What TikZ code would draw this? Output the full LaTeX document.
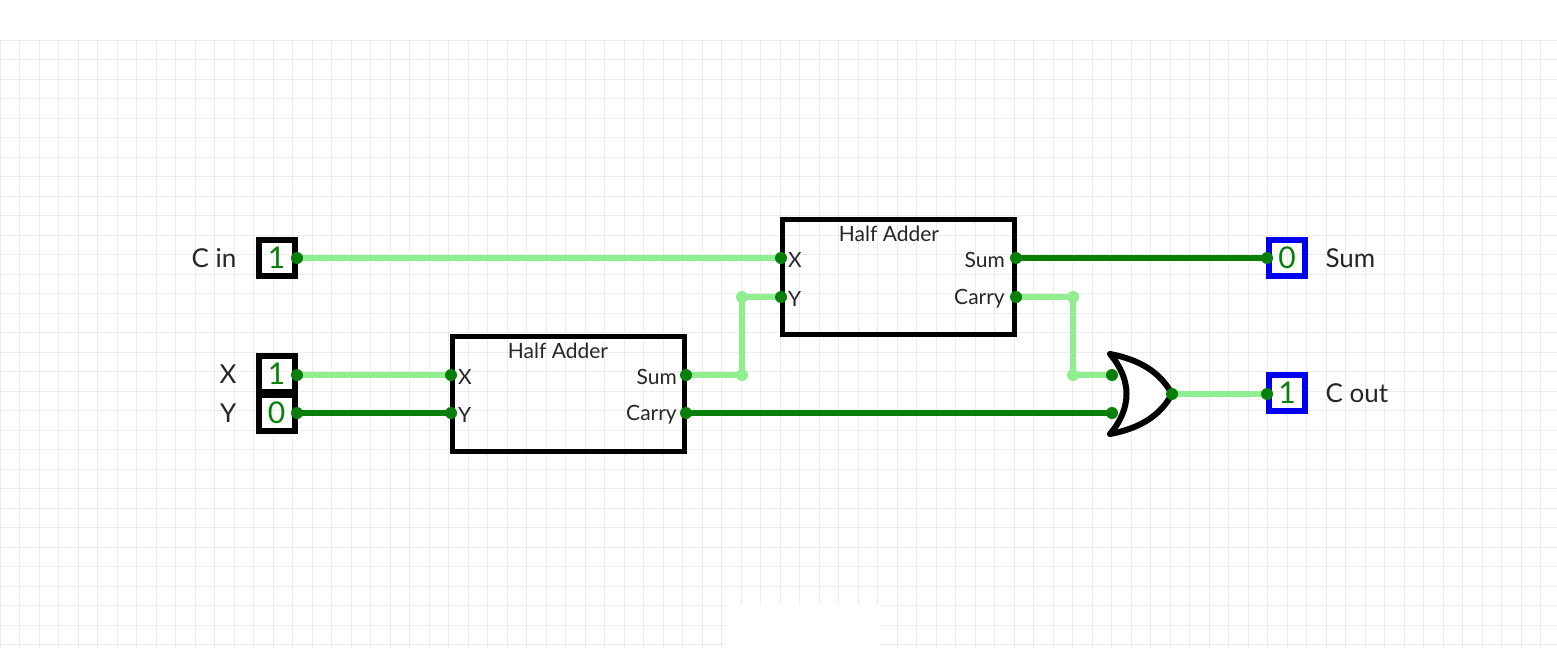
\documentclass[tikz,border=0pt]{standalone}
\usepackage{fontspec}
\setmainfont{Lato}
\begin{document}
\definecolor{lg}{HTML}{90EE90}
\definecolor{dg}{HTML}{087F08}
\definecolor{gridc}{HTML}{ECECEC}
\definecolor{bl}{HTML}{0000EE}
\begin{tikzpicture}[x=1pt,y=-1pt,
  lw/.style={lg,line width=6pt},
  dw/.style={dg,line width=6pt},
  io/.style={draw=black,line width=6pt,minimum width=36pt,minimum height=36pt,inner sep=0pt,text=dg,font=\fontsize{30}{30}\selectfont},
  outio/.style={io,draw=bl},
  ha/.style={draw=black,line width=5.5pt,minimum width=232pt,minimum height=115pt,inner sep=0pt},
  lab/.style={font=\fontsize{26}{26}\selectfont,text=black!85},
  port/.style={font=\fontsize{21}{21}\selectfont,text=black!85,inner sep=1pt},
  dot/.style={circle,fill=dg,inner sep=0pt,minimum size=12pt}]
\useasboundingbox (0,0) rectangle (1557,648);
\fill[white] (0,0) rectangle (1557,648);
\foreach \x in {0,19.5,...,1557} \draw[gridc,line width=0.8pt] (\x,40)--(\x,648);
\foreach \y in {40,59.5,...,648} \draw[gridc,line width=0.8pt] (0,\y)--(1557,\y);
\fill[white] (725,605) rectangle (880,648);
% nodes
\node[io] (cin) at (276.5,258) {1};
\node[io] (xin) at (276.5,374) {1};
\node[io] (yin) at (276.5,413) {0};
\node[lab,anchor=east] at (240,258) {C in};
\node[lab,anchor=east] at (240,374) {X};
\node[lab,anchor=east] at (240,413) {Y};
\node[ha] (ha1) at (568.5,394) {};
\node[ha] (ha2) at (898.5,277) {};
\node[port,anchor=north] at (558,342) {Half Adder};
\node[port,anchor=north] at (889,225) {Half Adder};
\node[port,anchor=west] at (457,377) {X};
\node[port,anchor=west] at (457,415) {Y};
\node[port,anchor=east] at (678,377) {Sum};
\node[port,anchor=east] at (678,415) {Carry};
\node[port,anchor=west] at (787,260) {X};
\node[port,anchor=west] at (787,299) {Y};
\node[port,anchor=east] at (1006,260) {Sum};
\node[port,anchor=east] at (1006,299) {Carry};
\node[outio] (sum) at (1287,258) {0};
\node[outio] (cout) at (1287,393) {1};
\node[lab,anchor=west] at (1322,258) {Sum};
\node[lab,anchor=west] at (1322,393) {C out};
% coordinates
\coordinate (cinO) at (297,258);
\coordinate (xO) at (297,375);
\coordinate (yO) at (297,413);
\coordinate (h1x) at (451,375);
\coordinate (h1y) at (451,413);
\coordinate (h1s) at (686,375);
\coordinate (h1c) at (686,413);
\coordinate (h2x) at (781,258);
\coordinate (h2y) at (781,297);
\coordinate (h2s) at (1016,258);
\coordinate (h2c) at (1016,297);
\coordinate (sumI) at (1267,258);
\coordinate (coutI) at (1267,394);
\coordinate (orA) at (1112,375);
\coordinate (orB) at (1112,413);
\coordinate (orO) at (1172,394);
\coordinate (j1) at (742,375);
\coordinate (j2) at (742,297);
\coordinate (j3) at (1073,297);
\coordinate (j4) at (1073,375);
% wires
\draw[lw] (cinO)--(h2x);
\draw[lw] (xO)--(h1x);
\draw[dw] (yO)--(h1y);
\draw[lw] (h1s)--(j1)--(j2)--(h2y);
\draw[dw] (h2s)--(sumI);
\draw[lw] (h2c)--(j3)--(j4)--(orA);
\draw[dw] (h1c)--(orB);
\draw[lw] (orO)--(coutI);
\foreach \p in {j1,j2,j3,j4} \fill[lg] (\p) circle (6);
% OR gate
\draw[black,line width=6pt,fill=white,line join=round]
 (1110,354) .. controls (1152,362) and (1165,382) .. (1172,394)
 .. controls (1165,406) and (1152,426) .. (1110,434)
 .. controls (1132,408) and (1132,380) .. (1110,354) -- cycle;
\foreach \p in {cinO,xO,yO,h1x,h1y,h1s,h1c,h2x,h2y,h2s,h2c,sumI,coutI,orA,orB,orO}
  \node[dot] at (\p) {};
\end{tikzpicture}
\end{document}
